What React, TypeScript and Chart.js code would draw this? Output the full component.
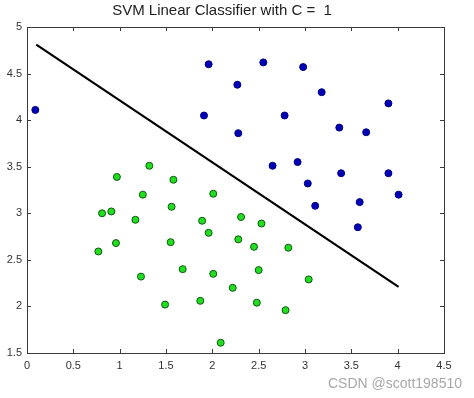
import React, { useEffect, useRef } from "react";
import { Chart, registerables } from "chart.js";

Chart.register(...registerables);

const titleText = "SVM Linear Classifier with C =  1";
const watermark = "CSDN @scott198510";

const blueX = [0.09, 1.96, 2.55, 2.98, 2.27, 3.18, 1.91, 2.78, 3.90, 2.28, 3.37, 3.66, 2.65, 2.92, 3.39, 3.90, 3.03, 3.59, 4.01, 3.11, 3.57];
const blueY = [4.11, 4.60, 4.62, 4.57, 4.38, 4.30, 4.05, 4.05, 4.18, 3.86, 3.92, 3.87, 3.51, 3.55, 3.43, 3.43, 3.32, 3.12, 3.20, 3.08, 2.85];

const greenX = [1.32, 0.97, 1.58, 1.25, 2.01, 1.56, 0.81, 0.91, 1.17, 1.89, 2.31, 1.96, 0.96, 1.55, 2.28, 0.77, 2.45, 1.68, 2.01, 1.23, 2.22, 1.49, 1.87, 2.09, 2.53, 2.82, 2.50, 3.04, 2.48, 2.79];
const greenY = [3.51, 3.39, 3.36, 3.20, 3.21, 3.07, 3.00, 3.02, 2.93, 2.92, 2.96, 2.79, 2.68, 2.69, 2.72, 2.59, 2.64, 2.40, 2.35, 2.32, 2.20, 2.02, 2.06, 1.61, 2.89, 2.63, 2.39, 2.29, 2.04, 1.96];

const lineX = [0.10, 4.01];
const lineY = [4.81, 2.21];

const xTicks = [0, 0.5, 1, 1.5, 2, 2.5, 3, 3.5, 4, 4.5];
const yTicks = [1.5, 2, 2.5, 3, 3.5, 4, 4.5, 5];

const boxPlugin = {
  id: "matlabBox",
  afterDraw(chart: any) {
    const { ctx, chartArea } = chart;
    const xs = chart.scales.x;
    const ys = chart.scales.y;
    ctx.save();
    ctx.strokeStyle = "#3a3a3a";
    ctx.lineWidth = 1;
    ctx.strokeRect(chartArea.left + 0.5, chartArea.top + 0.5, chartArea.right - chartArea.left, chartArea.bottom - chartArea.top);
    const tl = 4;
    ctx.beginPath();
    for (const v of xTicks) {
      const px = Math.round(xs.getPixelForValue(v)) + 0.5;
      ctx.moveTo(px, chartArea.bottom);
      ctx.lineTo(px, chartArea.bottom - tl);
      ctx.moveTo(px, chartArea.top);
      ctx.lineTo(px, chartArea.top + tl);
    }
    for (const v of yTicks) {
      const py = Math.round(ys.getPixelForValue(v)) + 0.5;
      ctx.moveTo(chartArea.left, py);
      ctx.lineTo(chartArea.left + tl, py);
      ctx.moveTo(chartArea.right, py);
      ctx.lineTo(chartArea.right - tl, py);
    }
    ctx.stroke();
    ctx.restore();
  },
};

export default function App() {
  const ref = useRef<HTMLCanvasElement | null>(null);
  useEffect(() => {
    document.body.style.margin = "0";
    const blue = blueX.map((x, i) => ({ x, y: blueY[i] }));
    const green = greenX.map((x, i) => ({ x, y: greenY[i] }));
    const line = lineX.map((x, i) => ({ x, y: lineY[i] }));
    const chart = new Chart(ref.current as HTMLCanvasElement, {
      type: "scatter",
      data: {
        datasets: [
          {
            type: "line",
            data: line,
            borderColor: "#000000",
            borderWidth: 2.2,
            pointRadius: 0,
            showLine: true,
            fill: false,
          } as any,
          {
            data: blue,
            backgroundColor: "#0000b4",
            borderColor: "#000080",
            borderWidth: 1,
            pointRadius: 3.5,
          },
          {
            data: green,
            backgroundColor: "#22dd22",
            borderColor: "#0a5a0a",
            borderWidth: 1,
            pointRadius: 3.5,
          },
        ],
      },
      options: {
        animation: false,
        responsive: false,
        layout: { padding: { left: 0, right: 30, top: 0, bottom: 0 } },
        plugins: {
          legend: { display: false },
          tooltip: { enabled: false },
          title: {
            display: true,
            text: titleText,
            color: "#222222",
            font: { family: "Liberation Sans, Arial, sans-serif", size: 15, weight: "normal" as any, lineHeight: 1.2 },
            padding: { top: 2, bottom: 7 },
          },
        },
        scales: {
          x: {
            type: "linear",
            min: 0,
            max: 4.5,
            afterFit(scale: any) {
              scale.height = 45;
            },
            afterBuildTicks(scale: any) {
              scale.ticks = xTicks.map((v) => ({ value: v }));
            },
            grid: { display: false, drawTicks: false },
            border: { display: false },
            ticks: {
              padding: 6,
              color: "#333333",
              font: { family: "Liberation Sans, Arial, sans-serif", size: 11 },
              maxRotation: 0,
              autoSkip: false,
              callback: (v: any) => String(v),
            },
          },
          y: {
            type: "linear",
            min: 1.5,
            max: 5,
            afterFit(scale: any) {
              scale.width = 27;
            },
            afterBuildTicks(scale: any) {
              scale.ticks = yTicks.map((v) => ({ value: v }));
            },
            grid: { display: false, drawTicks: false },
            border: { display: false },
            ticks: {
              padding: 5,
              color: "#333333",
              font: { family: "Liberation Sans, Arial, sans-serif", size: 11 },
              autoSkip: false,
              callback: (v: any) => String(v),
            },
          },
        },
      },
      plugins: [boxPlugin],
    });
    return () => chart.destroy();
  }, []);
  return (
    <div style={{ position: "relative", width: 474, height: 398, background: "#ffffff" }}>
      <canvas ref={ref} width={474} height={398} style={{ position: "absolute", left: 0, top: 0 }} />
      <div
        style={{
          position: "absolute",
          right: 12,
          top: 375,
          fontFamily: "Liberation Sans, Arial, sans-serif",
          fontSize: 14,
          color: "#a8a8a8",
          whiteSpace: "nowrap",
        }}
      >
        {watermark}
      </div>
    </div>
  );
}
